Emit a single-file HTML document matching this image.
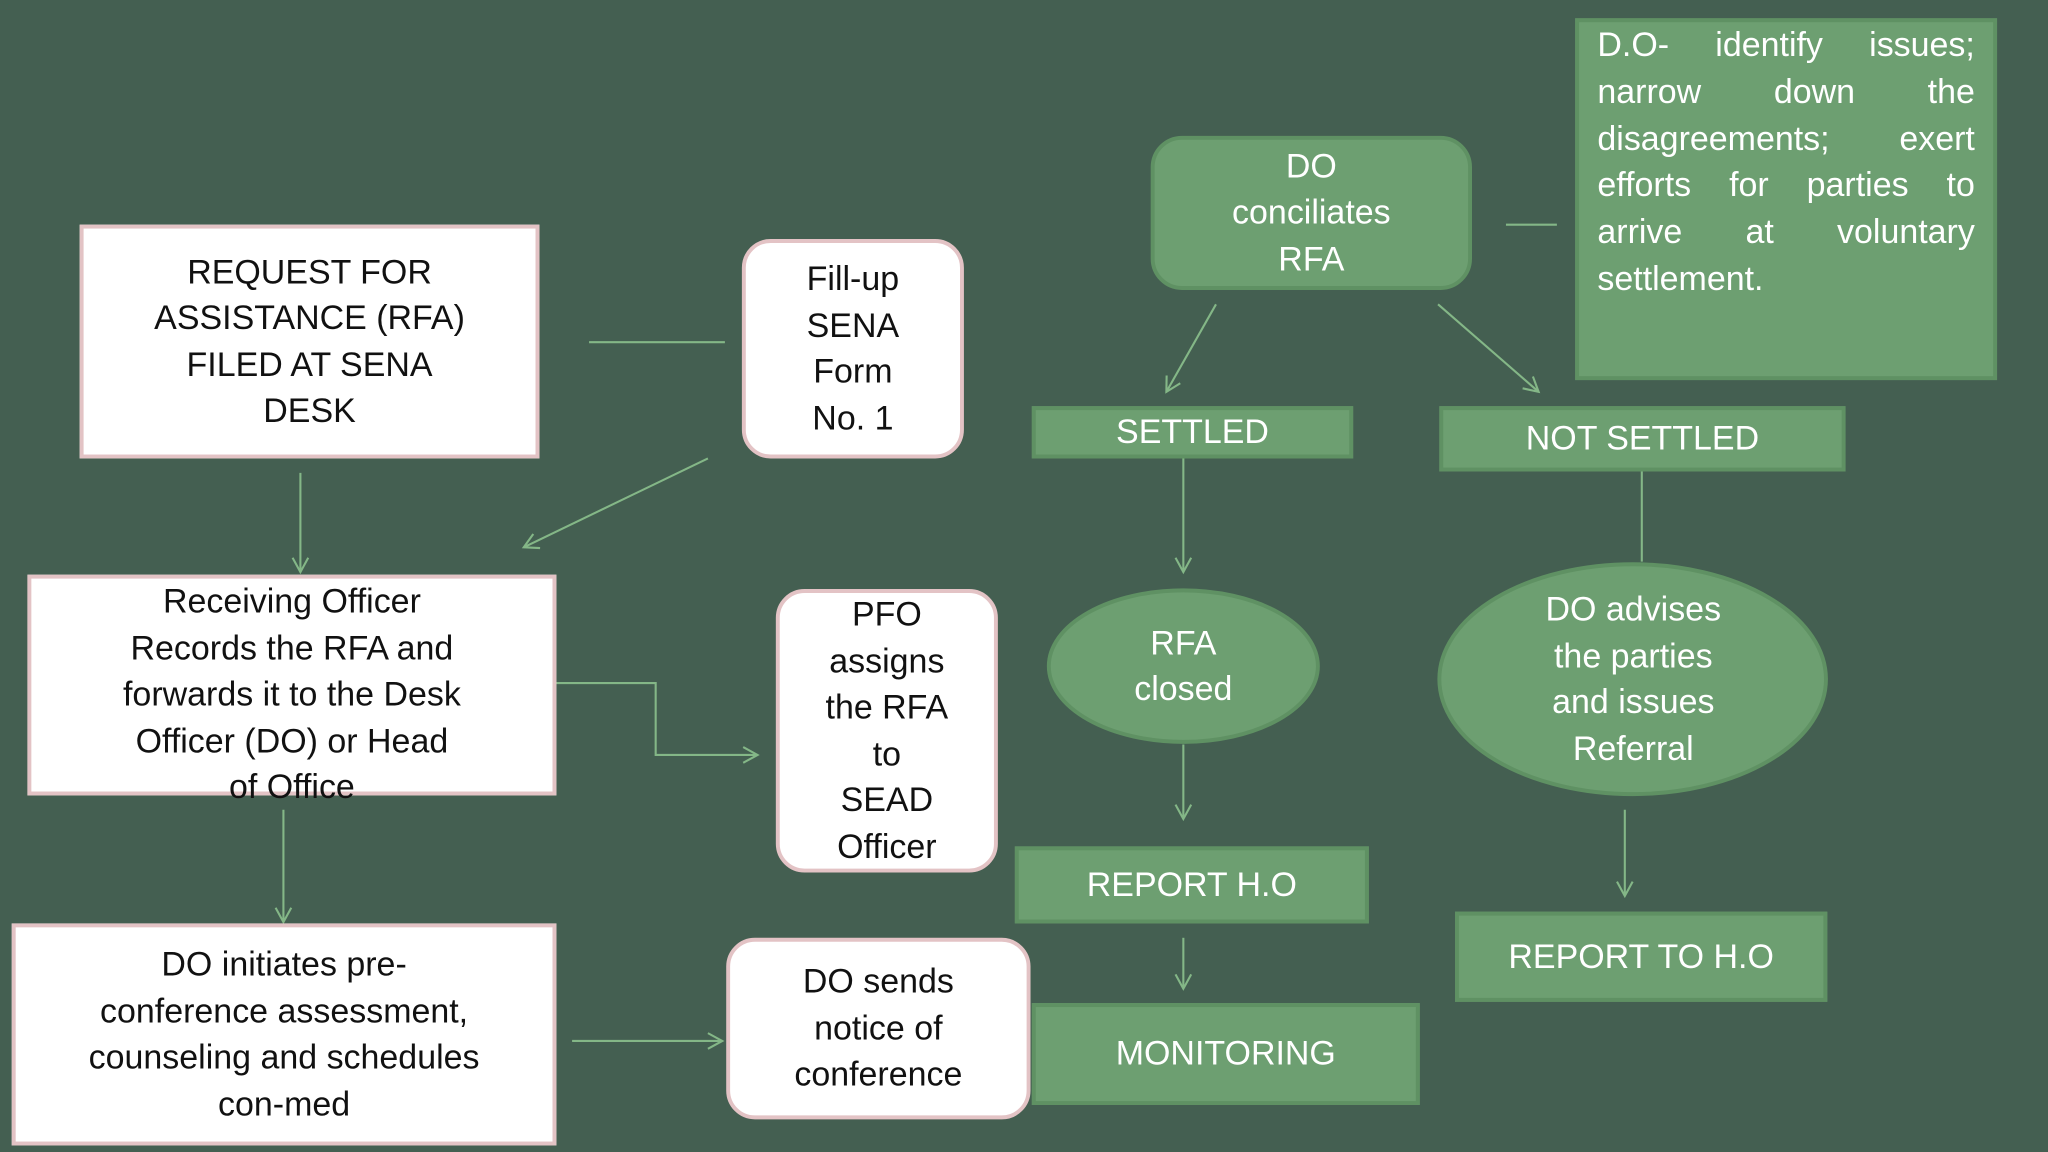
<!DOCTYPE html>
<html><head><meta charset="utf-8"><style>
html,body{margin:0;padding:0;background:#445f51;}
#w{width:2048px;height:1152px;overflow:hidden;position:relative;background:#445f51;}
#s{position:absolute;left:0;top:0;width:1568px;height:882px;transform:scale(1.306122);transform-origin:0 0;font-family:"Liberation Sans",sans-serif;}
.b{position:absolute;box-sizing:border-box;display:flex;align-items:center;justify-content:center;text-align:center;font-size:26px;line-height:35.5px;}
.w{background:#fff;border:3px solid #e3c3c5;color:#111;}
.r{border-radius:22px;}
.g{background:#6d9f71;border:3px solid #5f9163;color:#fff;}
svg{position:absolute;left:0;top:0;}
</style></head><body><div id="w"><div id="s">
<svg width="1568" height="882" viewBox="0 0 1568 882">
<defs><marker id="a" markerWidth="14" markerHeight="14" refX="12" refY="7" orient="auto" markerUnits="userSpaceOnUse"><path d="M1,1 L12,7 L1,13" fill="none" stroke="#84b787" stroke-width="1.6"/></marker></defs>
<g stroke="#84b787" stroke-width="1.6" fill="none">
<line x1="451" y1="262" x2="555" y2="262"/>
<line x1="542" y1="351" x2="401" y2="419" marker-end="url(#a)"/>
<line x1="230" y1="362" x2="230" y2="438" marker-end="url(#a)"/>
<polyline points="426,523 502,523 502,578 580,578" marker-end="url(#a)"/>
<line x1="217" y1="620" x2="217" y2="706" marker-end="url(#a)"/>
<line x1="438" y1="797" x2="553" y2="797" marker-end="url(#a)"/>
<line x1="1153" y1="172" x2="1192" y2="172"/>
<line x1="931" y1="233" x2="893" y2="300" marker-end="url(#a)"/>
<line x1="1101" y1="233" x2="1178" y2="300" marker-end="url(#a)"/>
<line x1="906" y1="351" x2="906" y2="438" marker-end="url(#a)"/>
<line x1="906" y1="570" x2="906" y2="627" marker-end="url(#a)"/>
<line x1="906" y1="718" x2="906" y2="757" marker-end="url(#a)"/>
<line x1="1257" y1="361" x2="1257" y2="430"/>
<line x1="1244" y1="620" x2="1244" y2="686" marker-end="url(#a)"/>
</g>
<ellipse cx="906" cy="510" rx="103" ry="58" fill="#6d9f71" stroke="#5f9163" stroke-width="3"/>
<ellipse cx="1250" cy="520" rx="148" ry="88" fill="#6d9f71" stroke="#5f9163" stroke-width="3"/>
</svg>
<div class="b w" style="left:61px;top:172px;width:352px;height:179px;">REQUEST FOR<br>ASSISTANCE (RFA)<br>FILED AT SENA<br>DESK</div>
<div class="b w r" style="left:568px;top:183px;width:170px;height:168px;">Fill-up<br>SENA<br>Form<br>No. 1</div>
<div class="b w" style="left:21px;top:440px;width:405px;height:169px;align-items:flex-start;padding-top:0;">Receiving Officer<br>Records the RFA and<br>forwards it to the Desk<br>Officer (DO) or Head<br>of Office</div>
<div class="b w r" style="left:594px;top:451px;width:170px;height:217px;">PFO<br>assigns<br>the RFA<br>to<br>SEAD<br>Officer</div>
<div class="b w" style="left:9px;top:707px;width:417px;height:170px;">DO initiates pre-<br>conference assessment,<br>counseling and schedules<br>con-med</div>
<div class="b w r" style="left:556px;top:718px;width:233px;height:139px;">DO sends<br>notice of<br>conference</div>
<div class="b g r" style="left:881px;top:104px;width:246px;height:118px;border-radius:24px;">DO<br>conciliates<br>RFA</div>
<div class="b g" style="left:1206px;top:14px;width:323px;height:277px;display:block;text-align:justify;text-align-last:justify;padding:0 14px;line-height:35.8px;">D.O- identify issues; narrow down the disagreements; exert efforts for parties to arrive at voluntary <span style="display:inline-block">settlement.</span></div>
<div class="b g" style="left:790px;top:311px;width:246px;height:40px;">SETTLED</div>
<div class="b g" style="left:1102px;top:311px;width:311px;height:50px;">NOT SETTLED</div>
<div class="b" style="left:803px;top:452px;width:206px;height:116px;color:#fff;">RFA<br>closed</div>
<div class="b" style="left:1102px;top:432px;width:297px;height:176px;color:#fff;">DO advises<br>the parties<br>and issues<br>Referral</div>
<div class="b g" style="left:777px;top:648px;width:271px;height:59px;">REPORT H.O</div>
<div class="b g" style="left:790px;top:768px;width:297px;height:78px;">MONITORING</div>
<div class="b g" style="left:1114px;top:698px;width:285px;height:69px;">REPORT TO H.O</div>
</div></div></body></html>
